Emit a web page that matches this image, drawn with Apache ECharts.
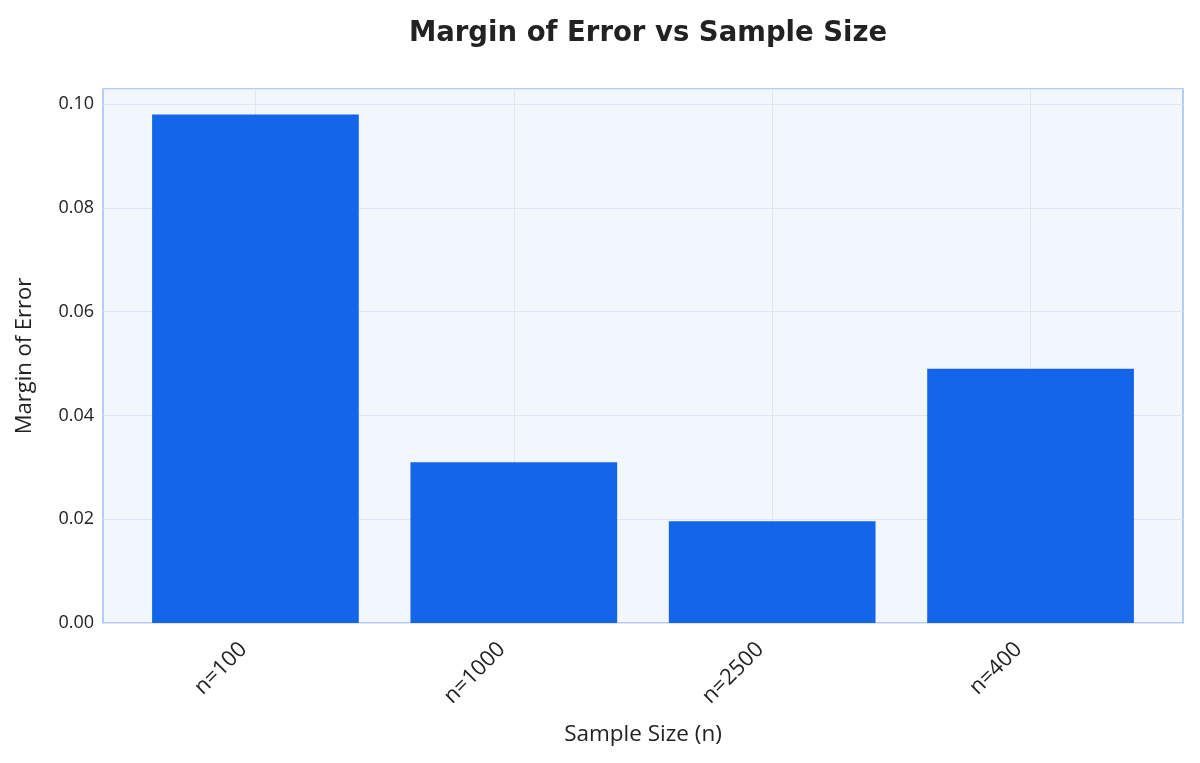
<!DOCTYPE html>
<html>
<head>
<meta charset="utf-8">
<script src="https://cdn.jsdelivr.net/npm/echarts@6/dist/echarts.min.js"></script>
<style>html,body{margin:0;padding:0;background:#fff}#c{width:1200px;height:763px}</style>
</head>
<body>
<div id="c"></div>
<script>
const categories = ['n=100', 'n=1000', 'n=2500', 'n=400'];
const marginOfError = [0.098, 0.031, 0.0196, 0.049];
const yTicks = [0, 0.02, 0.04, 0.06, 0.08, 0.10];

const FONT = '"Open Sans", "Noto Sans", sans-serif';
const TITLE_FONT = '"DejaVu Sans", "Open Sans", sans-serif';
const chart = echarts.init(document.getElementById('c'), null, {renderer: 'canvas'});
const catIdx = categories.map((_, i) => i);
chart.setOption({
  animation: false,
  title: {
    text: 'Margin of Error vs Sample Size',
    left: 643, top: 15, textAlign: 'center',
    textStyle: {fontFamily: TITLE_FONT, fontSize: 27.5, fontWeight: 'bold', color: '#222'}
  },
  grid: {
    left: 103, right: 17, top: 89, bottom: 140,
    show: true, backgroundColor: '#F2F6FD', borderColor: '#9DBEF5', borderWidth: 1.5
  },
  xAxis: {
    type: 'value', min: -0.59, max: 3.59,
    name: 'Sample Size (n)', nameLocation: 'middle', nameGap: 100,
    nameTextStyle: {fontFamily: FONT, fontSize: 22.5, color: '#222'},
    axisLine: {show: false}, axisTick: {show: false},
    splitLine: {show: false},
    axisLabel: {
      customValues: catIdx, rotate: 45, margin: 11, padding: [0, 17, 0, 0],
      fontFamily: FONT, fontSize: 22, color: '#222',
      formatter: v => categories[Math.round(v)] || ''
    }
  },
  yAxis: {
    type: 'value', min: 0, max: 0.1029, interval: 0.02,
    name: 'Margin of Error', nameLocation: 'middle', nameGap: 67,
    nameTextStyle: {fontFamily: FONT, fontSize: 22, color: '#222'},
    axisLine: {show: false}, axisTick: {show: false},
    splitLine: {show: true, lineStyle: {color: '#DFE7F6', width: 1}},
    axisLabel: {
      customValues: yTicks, margin: 9,
      fontFamily: FONT, fontSize: 18, color: '#222',
      formatter: v => v.toFixed(2)
    }
  },
  series: [
    {
      type: 'line', data: [], z: 1, silent: true,
      markLine: {
        silent: true, symbol: 'none', label: {show: false},
        lineStyle: {color: '#DFE7F6', width: 1, type: 'solid'},
        data: catIdx.map(i => ({xAxis: i}))
      }
    },
    {
      type: 'bar', zlevel: 1, z: 2, barWidth: 206.7,
      itemStyle: {color: '#1565EB'},
      data: marginOfError.map((v, i) => [i, v])
    }
  ]
});
</script>
</body>
</html>
